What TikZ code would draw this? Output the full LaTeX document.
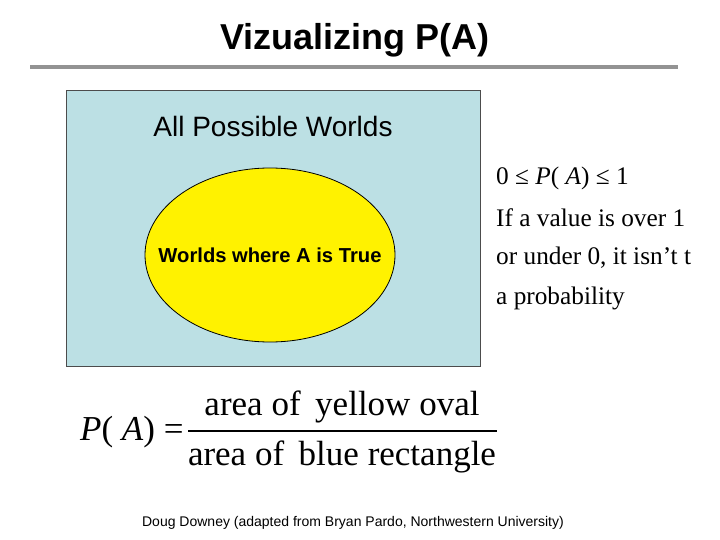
\documentclass[tikz,border=0pt]{standalone}
\usepackage{fontspec}
\usetikzlibrary{shapes.geometric}
\setmainfont{Liberation Serif}
\setsansfont{Liberation Sans}
\begin{document}
\begin{tikzpicture}[x=1pt,y=-1pt,
  rt/.style={font=\fontsize{25.3}{27}\selectfont\rmfamily,anchor=west,inner sep=0},
  fr/.style={font=\fontsize{35}{37}\selectfont\rmfamily,inner sep=0}]
\useasboundingbox[fill=white] (0,0) rectangle (720,540);
\node[font=\fontsize{36}{38}\selectfont\sffamily\bfseries] (title) at (355,40) {Vizualizing P(A)};
\draw[line width=4pt,gray!85] (30,67) coordinate (l1) -- (678,67) coordinate (l2);
\node[draw=black!70,fill={rgb,255:red,188;green,224;blue,228},minimum width=414pt,minimum height=276pt,inner sep=0] (rect) at (273,228) {};
\node[font=\fontsize{28}{30}\selectfont\sffamily] (all) at (273,126) {All Possible Worlds};
\node[ellipse,draw=black,line width=0.8pt,fill=yellow,minimum width=250pt,minimum height=174pt,inner sep=0] (ov) at (270,255) {};
\node[font=\fontsize{20.2}{22}\selectfont\sffamily\bfseries] (wa) at (270,255) {Worlds where A is True};
\node[rt] (r1) at (496,178) {0 ≤ \textit{P}( \textit{A}) ≤ 1};
\node[rt] (r2) at (496,218) {If a value is over 1};
\node[rt] (r3) at (496,258) {or under 0, it isn't t};
\node[rt] (r4) at (496,298) {a probability};
\node[fr,anchor=west] (pa) at (80,432) {\textit{P}( \textit{A}) =};
\node[fr] (num) at (342,407) {area of\, yellow oval};
\node[fr] (den) at (342,457) {area of\, blue rectangle};
\draw[line width=1.3pt] (188,431) coordinate (f1) -- (497,431) coordinate (f2);
\node[font=\fontsize{14}{16}\selectfont\sffamily] (foot) at (353,523) {Doug Downey (adapted from Bryan Pardo, Northwestern University)};
\end{tikzpicture}
\end{document}
